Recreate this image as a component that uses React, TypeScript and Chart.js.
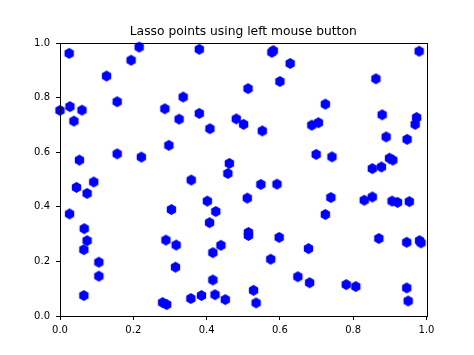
import React, { useEffect, useRef } from "react";
import { Chart, registerables } from "chart.js";

Chart.register(...registerables);

const chartTitle = "Lasso points using left mouse button";

const xValues = [
  0.000, 0.025, 0.027, 0.038, 0.060, 0.053, 0.045, 0.074, 0.092, 0.026,
  0.066, 0.074, 0.065, 0.106, 0.106, 0.065, 0.127, 0.156, 0.156, 0.194,
  0.216, 0.222, 0.280, 0.291, 0.289, 0.317, 0.315, 0.304, 0.286, 0.297,
  0.325, 0.336, 0.358, 0.380, 0.380, 0.409, 0.402, 0.425, 0.408, 0.417,
  0.439, 0.417, 0.357, 0.386, 0.423, 0.451, 0.458, 0.462, 0.481, 0.501,
  0.513, 0.552, 0.578, 0.582, 0.628, 0.600, 0.724, 0.687, 0.705, 0.699,
  0.742, 0.862, 0.980, 0.879, 0.973, 0.969, 0.890, 0.947, 0.899, 0.908,
  0.852, 0.877, 0.548, 0.592, 0.511, 0.739, 0.830, 0.852, 0.906, 0.921,
  0.953, 0.724, 0.514, 0.514, 0.598, 0.870, 0.946, 0.981, 0.985, 0.678,
  0.575, 0.649, 0.681, 0.781, 0.807, 0.946, 0.528, 0.535, 0.950,
];

const yValues = [
  0.753, 0.962, 0.767, 0.714, 0.754, 0.571, 0.471, 0.449, 0.491, 0.374,
  0.320, 0.276, 0.243, 0.197, 0.146, 0.075, 0.879, 0.785, 0.594, 0.937,
  0.985, 0.582, 0.049, 0.042, 0.278, 0.260, 0.179, 0.390, 0.759, 0.625,
  0.721, 0.802, 0.498, 0.977, 0.742, 0.686, 0.421, 0.383, 0.342, 0.232,
  0.259, 0.132, 0.064, 0.075, 0.078, 0.060, 0.522, 0.559, 0.722, 0.702,
  0.833, 0.678, 0.966, 0.972, 0.925, 0.859, 0.776, 0.699, 0.708, 0.592,
  0.583, 0.869, 0.970, 0.737, 0.727, 0.702, 0.656, 0.647, 0.578, 0.571,
  0.540, 0.546, 0.482, 0.483, 0.432, 0.434, 0.424, 0.436, 0.421, 0.416,
  0.419, 0.372, 0.306, 0.295, 0.288, 0.284, 0.270, 0.276, 0.268, 0.247,
  0.208, 0.144, 0.122, 0.115, 0.108, 0.103, 0.094, 0.048, 0.055,
];

const tickValues = [0.0, 0.2, 0.4, 0.6, 0.8, 1.0];

function makeHexagon(radius: number, color: string): HTMLCanvasElement {
  const size = Math.ceil(radius * 2) + 2;
  const c = document.createElement("canvas");
  c.width = size;
  c.height = size;
  const ctx = c.getContext("2d")!;
  const cx = size / 2;
  const cy = size / 2;
  ctx.beginPath();
  for (let i = 0; i < 6; i++) {
    const a = Math.PI / 2 + (i * Math.PI) / 3;
    const px = cx + radius * Math.cos(a);
    const py = cy - radius * Math.sin(a);
    if (i === 0) ctx.moveTo(px, py);
    else ctx.lineTo(px, py);
  }
  ctx.closePath();
  ctx.fillStyle = color;
  ctx.fill();
  return c;
}

const framePlugin = {
  id: "frame",
  afterDatasetsDraw(chart: any) {
    const { ctx, chartArea } = chart;
    const l = Math.round(chartArea.left) + 0.5;
    const t = Math.round(chartArea.top) + 0.5;
    const r = Math.round(chartArea.right) + 0.5;
    const b = Math.round(chartArea.bottom) + 0.5;
    ctx.save();
    ctx.strokeStyle = "#000";
    ctx.lineWidth = 1;
    ctx.strokeRect(l, t, r - l, b - t);
    ctx.fillStyle = "#000";
    ctx.font = "12.3px 'DejaVu Sans'";
    ctx.textAlign = "center";
    ctx.textBaseline = "middle";
    ctx.fillText(chartTitle, (chartArea.left + chartArea.right) / 2, 32);
    ctx.restore();
  },
};

export default function App() {
  const canvasRef = useRef<HTMLCanvasElement | null>(null);

  useEffect(() => {
    document.body.style.margin = "0";
    const canvas = canvasRef.current;
    if (!canvas) return;
    const hex = makeHexagon(5.4, "#0000ff");
    const data = xValues.map((x, i) => ({ x, y: yValues[i] }));
    const font = { family: "DejaVu Sans", size: 10 };
    const chart = new Chart(canvas, {
      type: "scatter",
      data: {
        datasets: [
          {
            data,
            pointStyle: hex as any,
            pointRadius: 5,
            pointHoverRadius: 5,
            backgroundColor: "#0000ff",
            borderColor: "#0000ff",
            clip: false as any,
          },
        ],
      },
      options: {
        animation: false,
        responsive: true,
        maintainAspectRatio: false,
        events: [],
        layout: { padding: { left: 20, right: 47.5, top: 43, bottom: 19 } },
        plugins: {
          legend: { display: false },
          tooltip: { enabled: false },
          title: { display: false },
        },
        scales: {
          x: {
            type: "linear",
            min: 0,
            max: 1,
            afterBuildTicks: (scale: any) => {
              scale.ticks = tickValues.map((v) => ({ value: v }));
            },
            afterFit: (scale: any) => {
              scale.height = 20;
            },
            border: { display: false },
            grid: {
              drawOnChartArea: false,
              drawTicks: true,
              tickLength: 4,
              color: "#000",
            },
            ticks: {
              color: "#000",
              font,
              padding: 4,
              maxRotation: 0,
              callback: (v: any) => Number(v).toFixed(1),
            },
          },
          y: {
            type: "linear",
            min: 0,
            max: 1,
            afterBuildTicks: (scale: any) => {
              scale.ticks = tickValues.map((v) => ({ value: v }));
            },
            afterFit: (scale: any) => {
              scale.width = 40;
            },
            border: { display: false },
            grid: {
              drawOnChartArea: false,
              drawTicks: true,
              tickLength: 4,
              color: "#000",
            },
            ticks: {
              color: "#000",
              font,
              padding: 6,
              callback: (v: any) => Number(v).toFixed(1),
            },
          },
        },
      },
      plugins: [framePlugin],
    });
    return () => chart.destroy();
  }, []);

  return (
    <div style={{ position: "absolute", left: 0, top: 0, width: 474, height: 355, background: "#fff" }}>
      <canvas ref={canvasRef} />
    </div>
  );
}
